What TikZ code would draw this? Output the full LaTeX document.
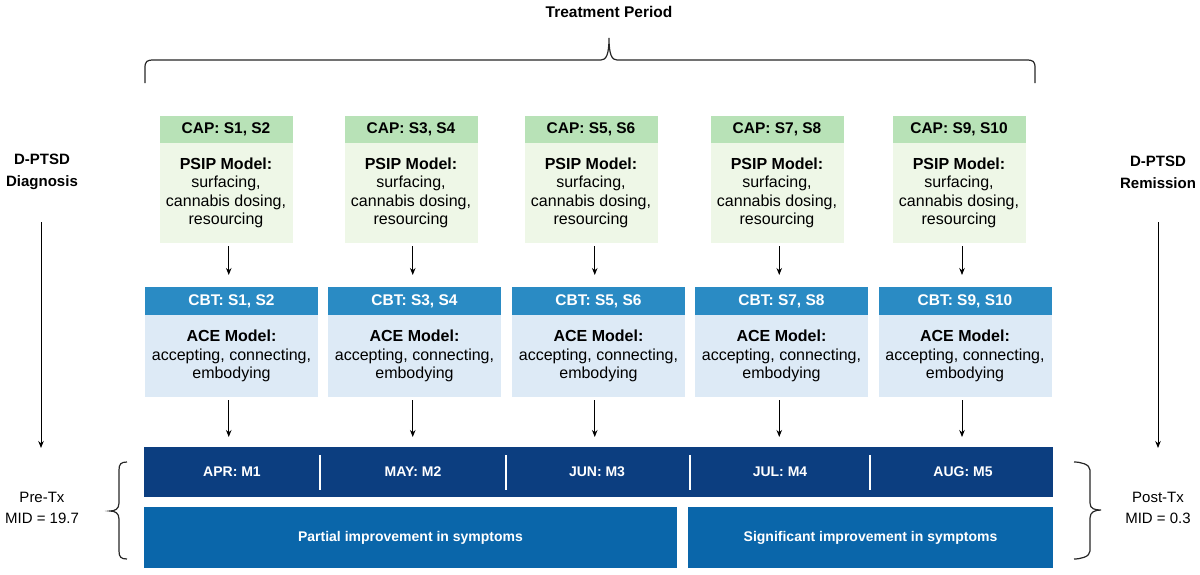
\documentclass[tikz,border=0pt]{standalone}
\usepackage{fontspec}
\setmainfont{Liberation Sans}
\usetikzlibrary{arrows.meta}
\definecolor{capH}{RGB}{184,226,183}
\definecolor{capB}{RGB}{238,247,231}
\definecolor{cbtH}{RGB}{42,139,196}
\definecolor{cbtB}{RGB}{221,234,246}
\definecolor{monthC}{RGB}{12,62,128}
\definecolor{impC}{RGB}{10,102,170}
\begin{document}
\begin{tikzpicture}[x=1pt,y=-1pt,
  every node/.style={inner sep=0pt, outer sep=0pt, font=\fontsize{15.5}{18.5}\selectfont},
  caphead/.style={minimum width=133pt, minimum height=27pt, fill=capH, font=\fontsize{15.5}{18.5}\selectfont\bfseries},
  capbody/.style={minimum width=133pt, minimum height=100pt, fill=capB, align=center, font=\fontsize{16}{18.5}\selectfont},
  cbthead/.style={minimum width=173pt, minimum height=28pt, fill=cbtH, text=white, font=\fontsize{15.5}{18.5}\selectfont\bfseries},
  cbtbody/.style={minimum width=173pt, minimum height=82pt, fill=cbtB, align=center, font=\fontsize{16}{18.5}\selectfont},
  bartext/.style={text=white, font=\fontsize{14}{17}\selectfont\bfseries},
  sidebold/.style={align=center, font=\fontsize{15}{22}\selectfont\bfseries},
  sidetext/.style={align=center, font=\fontsize{15}{21}\selectfont},
  arr/.style={draw=black, line width=0.9pt, -{Stealth[length=7pt,width=5.5pt]}},
  bracepath/.style={draw=black!85, line width=1.2pt}
]
\useasboundingbox (0,0) rectangle (1200,574);

% Title and top brace
\node[font=\fontsize{15.5}{18.5}\selectfont\bfseries] (title) at (609,12) {Treatment Period};
\draw[bracepath] (145,83) -- (145,68) .. controls (145,61) and (147,60) .. (154,60)
  -- (601,60) .. controls (606,60) and (609,55) .. (609,38)
  .. controls (609,55) and (612,60) .. (617,60)
  -- (1026,60) .. controls (1033,60) and (1035,61) .. (1035,68) -- (1035,83);

% Columns
\foreach \i/\cx/\bx/\a/\b in {1/226/231.5/S1/S2, 2/411/414.5/S3/S4, 3/591/598.5/S5/S6, 4/777/781.5/S7/S8, 5/959/965/S9/S10}{
  \node[caphead] (caph\i) at (\cx,129.5) {CAP: \a, \b};
  \node[capbody] (capb\i) at (\cx,193) {\textbf{PSIP Model:}\\surfacing,\\cannabis dosing,\\resourcing};
  \node[cbthead] (cbth\i) at (\bx,301) {CBT: \a, \b};
  \node[cbtbody] (cbtb\i) at (\bx,356) {\textbf{ACE Model:}\\accepting, connecting,\\embodying};
  \coordinate (ax\i) at ({(\cx+\bx)/2},0);
}

% Month bar
\node[minimum width=909pt, minimum height=50pt, fill=monthC] (months) at (598.5,472) {};
\foreach \x in {320,506,690,870}{
  \draw[white, line width=1.6pt] (\x,455) -- (\x,490);
}
\node[bartext] (m1) at (232,472) {APR: M1};
\node[bartext] (m2) at (413,472) {MAY: M2};
\node[bartext] (m3) at (597,472) {JUN: M3};
\node[bartext] (m4) at (780,472) {JUL: M4};
\node[bartext] (m5) at (963,472) {AUG: M5};

% Improvement bars
\node[minimum width=533pt, minimum height=61pt, fill=impC, bartext] (partial) at (410.5,537.5) {Partial improvement in symptoms};
\node[minimum width=365pt, minimum height=61pt, fill=impC, bartext] (signif) at (870.5,537.5) {Significant improvement in symptoms};

% Arrows in columns
\foreach \i in {1,...,5}{
  \draw[arr, shorten <=3pt, shorten >=12pt] (ax\i |- capb\i.south) -- (ax\i |- cbth\i.north);
  \draw[arr, shorten <=3pt, shorten >=10pt] (ax\i |- cbtb\i.south) -- (ax\i |- months.north);
}

% Left side
\node[sidebold] (diag) at (42,172) {D-PTSD\\Diagnosis};
\coordinate (dtop) at (41,222);
\coordinate (dbot) at (41,448);
\draw[arr] (dtop) -- (dbot);
\node[sidetext] (pre) at (42,508) {Pre-Tx\\MID = 19.7};
\draw[bracepath] (127,462) .. controls (121,462) and (119,464) .. (119,470)
  -- (119,503) .. controls (119,509) and (115,511) .. (110,511)
  .. controls (115,511) and (119,513) .. (119,519)
  -- (119,551) .. controls (119,557) and (121,559) .. (127,559);

% Right side
\node[sidebold] (remis) at (1158,172) {D-PTSD\\Remission};
\coordinate (rtop) at (1158,222);
\coordinate (rbot) at (1158,448);
\draw[arr] (rtop) -- (rbot);
\node[sidetext] (post) at (1158,508) {Post-Tx\\MID = 0.3};
\draw[bracepath] (1074,462) .. controls (1080,462) and (1090,464) .. (1090,470)
  -- (1090,503) .. controls (1090,509) and (1095,510) .. (1101,510)
  .. controls (1095,510) and (1090,512) .. (1090,518)
  -- (1090,551) .. controls (1090,557) and (1080,559) .. (1074,559);
\end{tikzpicture}
\end{document}
